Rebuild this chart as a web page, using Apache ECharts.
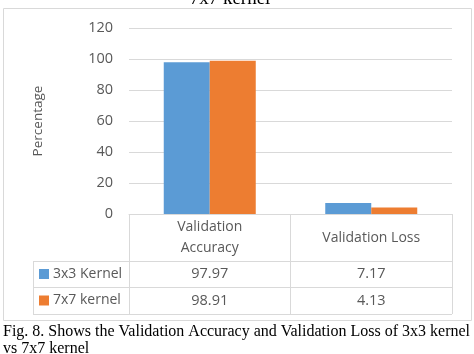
<!DOCTYPE html>
<html lang="en">
<head>
    <meta charset="UTF-8">
    <title>Validation Accuracy vs Loss</title>
    <style>
        * { margin: 0; padding: 0; box-sizing: border-box; }
        body { background-color: #ffffff; }
        #chart { width: 474px; height: 354px; }
    </style>
    <script src="https://cdn.jsdelivr.net/npm/echarts@6.0.0/dist/echarts.min.js"></script>
</head>
<body>
    <div id="chart"></div>

    <script>
        // data
        const categories = ['Validation\nAccuracy', 'Validation Loss'];
        const seriesNames = ['3x3 Kernel', '7x7 kernel'];
        const kernel3 = [97.97, 7.17];
        const kernel7 = [98.91, 4.13];
        const yTicks = [0, 20, 40, 60, 80, 100, 120];

        const colors = ['#5B9BD5', '#ED7D31'];
        const lineColor = '#d9d9d9';
        const textColor = '#595959';
        const uiFont = '"Open Sans", sans-serif';
        const serifFont = '"Liberation Serif", "DejaVu Serif", serif';

        // layout
        const gridLeft = 129, gridRight = 452, gridTop = 28, gridBottom = 214;
        const rowTops = [261, 287, 314];
        const legendLeft = 33;

        const chart = echarts.init(document.getElementById('chart'));

        const option = {
            animation: false,
            grid: {
                left: gridLeft,
                right: 474 - gridRight,
                top: gridTop,
                bottom: 354 - gridBottom
            },
            xAxis: {
                type: 'category',
                data: categories,
                axisLine: { lineStyle: { color: lineColor } },
                axisTick: {
                    show: true,
                    length: rowTops[2] - gridBottom,
                    lineStyle: { color: lineColor }
                },
                axisLabel: {
                    color: textColor,
                    fontFamily: uiFont,
                    fontSize: 14,
                    lineHeight: 21,
                    verticalAlign: 'middle',
                    margin: 24
                }
            },
            yAxis: {
                type: 'value',
                min: yTicks[0],
                max: yTicks[yTicks.length - 1],
                interval: 20,
                name: 'Percentage',
                nameLocation: 'middle',
                nameGap: 84,
                nameTextStyle: { color: textColor, fontFamily: uiFont, fontSize: 13.5 },
                axisLine: { show: false },
                axisTick: { show: false },
                axisLabel: { color: textColor, fontFamily: uiFont, fontSize: 14.5, margin: 16 },
                splitLine: { lineStyle: { color: lineColor } }
            },
            series: [
                {
                    name: seriesNames[0],
                    type: 'bar',
                    data: kernel3,
                    barWidth: 46,
                    barGap: '0%',
                    itemStyle: { color: colors[0] }
                },
                {
                    name: seriesNames[1],
                    type: 'bar',
                    data: kernel7,
                    barWidth: 46,
                    barGap: '0%',
                    itemStyle: { color: colors[1] }
                }
            ]
        };

        chart.setOption(option);

        // data table under the plot
        const rows = [kernel3, kernel7];
        const graphics = [];

        // outer chart frame
        graphics.push({
            type: 'rect',
            shape: { x: 3.5, y: 8.5, width: 468, height: 312 },
            style: { fill: null, stroke: lineColor, lineWidth: 1 },
            silent: true
        });

        rowTops.forEach(function (y) {
            graphics.push({
                type: 'line',
                shape: { x1: legendLeft, y1: y + 0.5, x2: gridRight, y2: y + 0.5 },
                style: { stroke: lineColor, lineWidth: 1 }
            });
        });
        graphics.push({
            type: 'line',
            shape: { x1: legendLeft + 0.5, y1: rowTops[0], x2: legendLeft + 0.5, y2: rowTops[2] },
            style: { stroke: lineColor, lineWidth: 1 }
        });

        rows.forEach(function (vals, r) {
            const cy = (rowTops[r] + rowTops[r + 1]) / 2;
            graphics.push({
                type: 'rect',
                shape: { x: 39, y: cy - 5, width: 10, height: 10 },
                style: { fill: colors[r] }
            });
            graphics.push({
                type: 'text',
                x: 53, y: cy,
                style: {
                    text: seriesNames[r],
                    fill: textColor,
                    font: '14px ' + uiFont,
                    verticalAlign: 'middle'
                }
            });
            vals.forEach(function (v, c) {
                const px = chart.convertToPixel({ xAxisIndex: 0 }, c);
                graphics.push({
                    type: 'text',
                    x: px, y: cy,
                    style: {
                        text: v.toFixed(2),
                        fill: textColor,
                        font: '14.5px ' + uiFont,
                        align: 'center',
                        verticalAlign: 'middle'
                    }
                });
            });
        });

        // clipped title at top and figure caption below
        graphics.push({
            type: 'text',
            x: 230, y: 9,
            style: {
                text: '7x7 kernel',
                fill: '#000',
                font: '19px ' + serifFont,
                align: 'center',
                verticalAlign: 'bottom'
            }
        });
        graphics.push({
            type: 'text',
            x: 3, y: 323,
            style: {
                text: 'Fig. 8. Shows the Validation Accuracy and Validation Loss of 3x3 kernel\nvs 7x7 kernel',
                fill: '#000',
                font: '16px ' + serifFont,
                lineHeight: 17,
                verticalAlign: 'top'
            }
        });

        chart.setOption({ graphic: graphics });
    </script>
</body>
</html>
